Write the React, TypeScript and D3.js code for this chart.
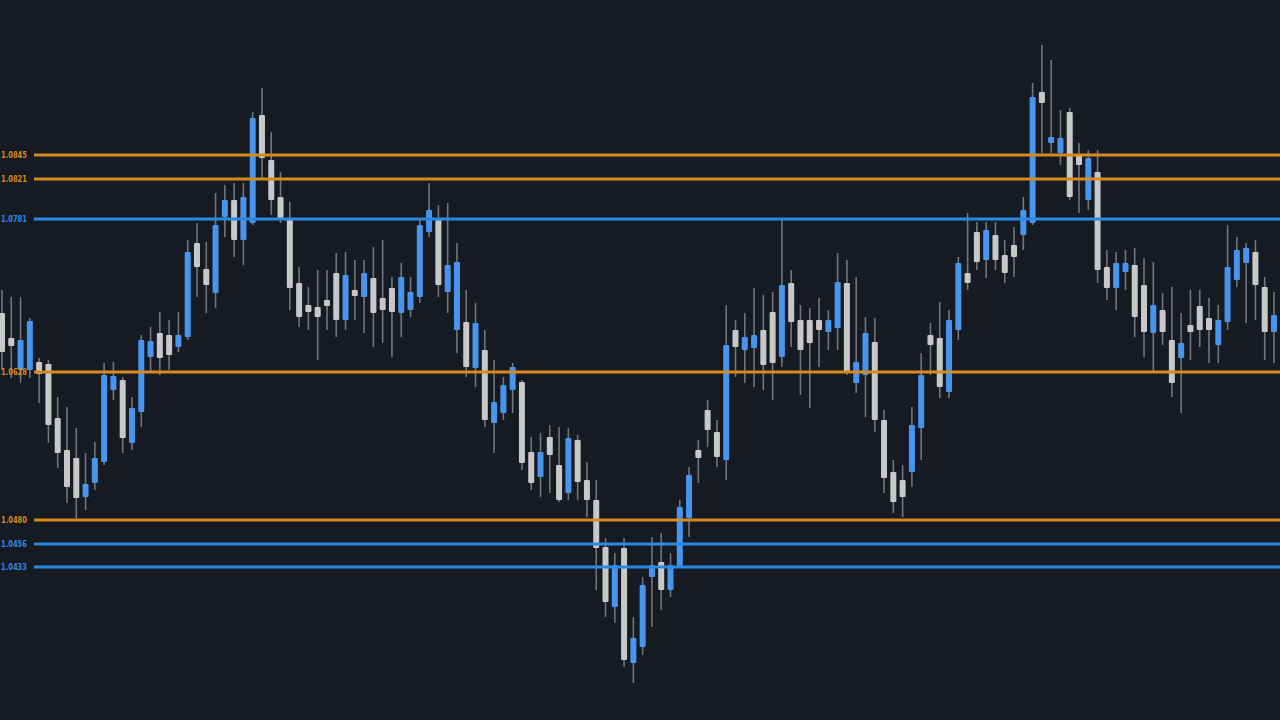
import React from "react";
import * as d3 from "d3";

// Candle prices (EUR/USD style quotes), one entry per bar
const opens = [
  1.0687, 1.0662, 1.063, 1.063, 1.0638, 1.0636, 1.0582, 1.055, 1.0542, 1.0503,
  1.0517, 1.0538, 1.061, 1.062, 1.0557, 1.0588, 1.0643, 1.0667, 1.0665, 1.0653,
  1.0663, 1.0757, 1.0731, 1.0707, 1.0783, 1.08, 1.076, 1.0777, 1.0885, 1.084,
  1.0803, 1.0782, 1.0717, 1.0695, 1.0693, 1.07, 1.0727, 1.068, 1.071, 1.0703,
  1.0722, 1.0702, 1.0712, 1.0687, 1.069, 1.0703, 1.0768, 1.0782, 1.0708, 1.067,
  1.0678, 1.0632, 1.065, 1.0577, 1.0587, 1.061, 1.0618, 1.0548, 1.0523, 1.0563,
  1.0535, 1.0507, 1.056, 1.052, 1.05, 1.0453, 1.0393, 1.0452, 1.0337, 1.0353,
  1.0423, 1.0438, 1.041, 1.0433, 1.0482, 1.055, 1.059, 1.0568, 1.054, 1.067,
  1.065, 1.0652, 1.067, 1.0688, 1.0643, 1.0717, 1.068, 1.068, 1.068, 1.0668,
  1.0672, 1.0717, 1.0617, 1.0625, 1.0658, 1.058, 1.0528, 1.052, 1.0528, 1.0572,
  1.0665, 1.0662, 1.0608, 1.067, 1.0727, 1.0768, 1.074, 1.0765, 1.0745, 1.0755,
  1.0765, 1.0777, 1.0908, 1.0857, 1.0847, 1.0888, 1.0845, 1.08, 1.0828, 1.0733,
  1.0712, 1.0728, 1.0735, 1.0715, 1.0667, 1.069, 1.066, 1.0642, 1.0675, 1.0694,
  1.0682, 1.0655, 1.0678, 1.072, 1.0737, 1.0748, 1.0713, 1.0668,
];
const highs = [
  1.071, 1.0703, 1.0703, 1.0682, 1.0642, 1.064, 1.0603, 1.0593, 1.0572, 1.0547,
  1.0558, 1.0637, 1.0638, 1.0623, 1.0603, 1.0665, 1.0673, 1.0688, 1.068, 1.0688,
  1.076, 1.0777, 1.0758, 1.0807, 1.0815, 1.0817, 1.0817, 1.0888, 1.0912, 1.0868,
  1.0828, 1.0798, 1.0733, 1.0713, 1.073, 1.073, 1.0747, 1.0748, 1.074, 1.074,
  1.0753, 1.076, 1.0723, 1.0737, 1.0723, 1.078, 1.0817, 1.0795, 1.0797, 1.0757,
  1.071, 1.0697, 1.067, 1.064, 1.0623, 1.0637, 1.062, 1.0563, 1.0567, 1.0575,
  1.0573, 1.0572, 1.0565, 1.0538, 1.052, 1.0462, 1.0447, 1.0462, 1.0383, 1.0423,
  1.0463, 1.0467, 1.0447, 1.05, 1.0533, 1.056, 1.06, 1.058, 1.0695, 1.068,
  1.0687, 1.0712, 1.0705, 1.0708, 1.078, 1.073, 1.0695, 1.0692, 1.0702, 1.069,
  1.0747, 1.074, 1.0723, 1.0683, 1.0682, 1.059, 1.054, 1.0535, 1.0593, 1.0647,
  1.0677, 1.0698, 1.069, 1.0743, 1.0787, 1.0778, 1.0778, 1.0778, 1.076, 1.0773,
  1.0803, 1.0917, 1.0955, 1.094, 1.089, 1.0892, 1.0857, 1.085, 1.085, 1.075,
  1.0748, 1.075, 1.0752, 1.0742, 1.0738, 1.0707, 1.0713, 1.0687, 1.071, 1.071,
  1.0702, 1.0695, 1.0775, 1.0763, 1.0757, 1.076, 1.0723, 1.0708,
];
const lows = [
  1.063, 1.0622, 1.0617, 1.0622, 1.0597, 1.0557, 1.0532, 1.0497, 1.0482, 1.049,
  1.051, 1.0535, 1.06, 1.0547, 1.055, 1.0573, 1.0627, 1.0625, 1.063, 1.0648,
  1.066, 1.0703, 1.0687, 1.0692, 1.0763, 1.0743, 1.0735, 1.0775, 1.082, 1.0785,
  1.0777, 1.069, 1.0673, 1.067, 1.064, 1.067, 1.0663, 1.067, 1.068, 1.0667,
  1.0653, 1.0657, 1.0643, 1.0663, 1.0683, 1.0697, 1.0763, 1.0703, 1.0687, 1.0647,
  1.0623, 1.0613, 1.0573, 1.0547, 1.058, 1.0587, 1.053, 1.051, 1.0503, 1.0507,
  1.0498, 1.05, 1.05, 1.0483, 1.041, 1.0383, 1.0377, 1.0333, 1.0317, 1.0345,
  1.0373, 1.039, 1.0403, 1.0433, 1.0463, 1.0517, 1.0553, 1.0533, 1.052, 1.0623,
  1.0617, 1.0613, 1.061, 1.06, 1.0633, 1.0653, 1.0605, 1.0592, 1.0633, 1.065,
  1.065, 1.0625, 1.0607, 1.0583, 1.0568, 1.0507, 1.0487, 1.0483, 1.0513, 1.054,
  1.0625, 1.0602, 1.0602, 1.066, 1.071, 1.073, 1.0722, 1.073, 1.0717, 1.0723,
  1.075, 1.0775, 1.0847, 1.0847, 1.0835, 1.08, 1.0787, 1.079, 1.0717, 1.07,
  1.069, 1.071, 1.0663, 1.0643, 1.0628, 1.0655, 1.0603, 1.0587, 1.064, 1.0653,
  1.0637, 1.0637, 1.067, 1.0713, 1.0677, 1.068, 1.064, 1.0637,
];
const closes = [
  1.0648, 1.0654, 1.066, 1.0679, 1.0626, 1.0575, 1.0547, 1.0513, 1.0502, 1.0516,
  1.0542, 1.0625, 1.0624, 1.0562, 1.0592, 1.066, 1.0659, 1.0642, 1.0645, 1.0665,
  1.0748, 1.0733, 1.0715, 1.0775, 1.08, 1.076, 1.0803, 1.0882, 1.0842, 1.08,
  1.0782, 1.0712, 1.0683, 1.0688, 1.0683, 1.0694, 1.068, 1.0725, 1.0704, 1.0727,
  1.0687, 1.069, 1.0688, 1.0723, 1.0708, 1.0775, 1.079, 1.0715, 1.0735, 1.0738,
  1.0633, 1.0677, 1.058, 1.0598, 1.0615, 1.0633, 1.0537, 1.0517, 1.0548, 1.0545,
  1.05, 1.0562, 1.0518, 1.05, 1.0452, 1.0398, 1.0435, 1.034, 1.0362, 1.0415,
  1.0435, 1.041, 1.0435, 1.0493, 1.0525, 1.0542, 1.057, 1.0543, 1.0655, 1.0653,
  1.0663, 1.0665, 1.0635, 1.0637, 1.0715, 1.0678, 1.065, 1.0657, 1.067, 1.068,
  1.0718, 1.0628, 1.0638, 1.0667, 1.058, 1.0522, 1.0498, 1.0503, 1.0575, 1.0625,
  1.0655, 1.0613, 1.068, 1.0737, 1.0717, 1.0738, 1.077, 1.074, 1.0727, 1.0743,
  1.079, 1.0903, 1.0897, 1.0863, 1.0862, 1.0803, 1.0835, 1.0842, 1.073, 1.0712,
  1.0737, 1.0737, 1.0683, 1.0668, 1.0695, 1.0668, 1.0617, 1.0657, 1.0668, 1.067,
  1.067, 1.068, 1.0733, 1.075, 1.0752, 1.0715, 1.0668, 1.0685,
];

// Horizontal support / resistance levels
const levelPrices = [1.0845, 1.0821, 1.0781, 1.0628, 1.048, 1.0456, 1.0433];
const levelKinds = ["R", "R", "S", "R", "R", "S", "S"];

const W = 1280;
const H = 720;
const BG = "#161a23";
const ORANGE = "#d88a1e";
const BLUE_LINE = "#2a8ae3";
const UP = "#4795ee";
const DOWN = "#c8c8c8";

export default function App() {
  const n = opens.length;
  const x = d3.scaleLinear().domain([0, n - 1]).range([2, 1274]);
  const y = d3.scaleLinear().domain([1.1, 1.028]).range([0, H]);
  const bodyW = 6;

  const candles = d3.range(n).map((i) => ({
    i,
    o: opens[i],
    h: highs[i],
    l: lows[i],
    c: closes[i],
  }));

  return (
    <svg
      width={W}
      height={H}
      style={{ position: "fixed", left: 0, top: 0, display: "block", background: BG }}
    >
      <rect width={W} height={H} fill={BG} />
      <g>
        {candles.map((d) => {
          const up = d.c >= d.o;
          const top = y(Math.max(d.o, d.c));
          const bot = y(Math.min(d.o, d.c));
          const cx = x(d.i);
          return (
            <g key={d.i}>
              <line
                x1={cx}
                x2={cx}
                y1={y(d.h)}
                y2={y(d.l)}
                stroke="#92949a"
                strokeOpacity={0.75}
                strokeWidth={1.6}
              />
              <rect
                x={cx - bodyW / 2}
                y={top}
                width={bodyW}
                height={Math.max(2, bot - top)}
                fill={up ? UP : DOWN}
                rx={1}
              />
            </g>
          );
        })}
      </g>
      <g>
        {levelPrices.map((p, k) => {
          const col = levelKinds[k] === "R" ? ORANGE : BLUE_LINE;
          return (
            <g key={k}>
              <line
                x1={34}
                x2={W}
                y1={y(p)}
                y2={y(p)}
                stroke={col}
                strokeWidth={3}
              />
              <text
                x={1}
                y={y(p)}
                dy="0.35em"
                fill={col}
                fontFamily="'DejaVu Sans Condensed', 'DejaVu Sans', sans-serif"
                fontWeight="bold"
                fontSize={9}
                textLength={26}
                lengthAdjust="spacingAndGlyphs"
              >
                {p.toFixed(4)}
              </text>
            </g>
          );
        })}
      </g>
    </svg>
  );
}
